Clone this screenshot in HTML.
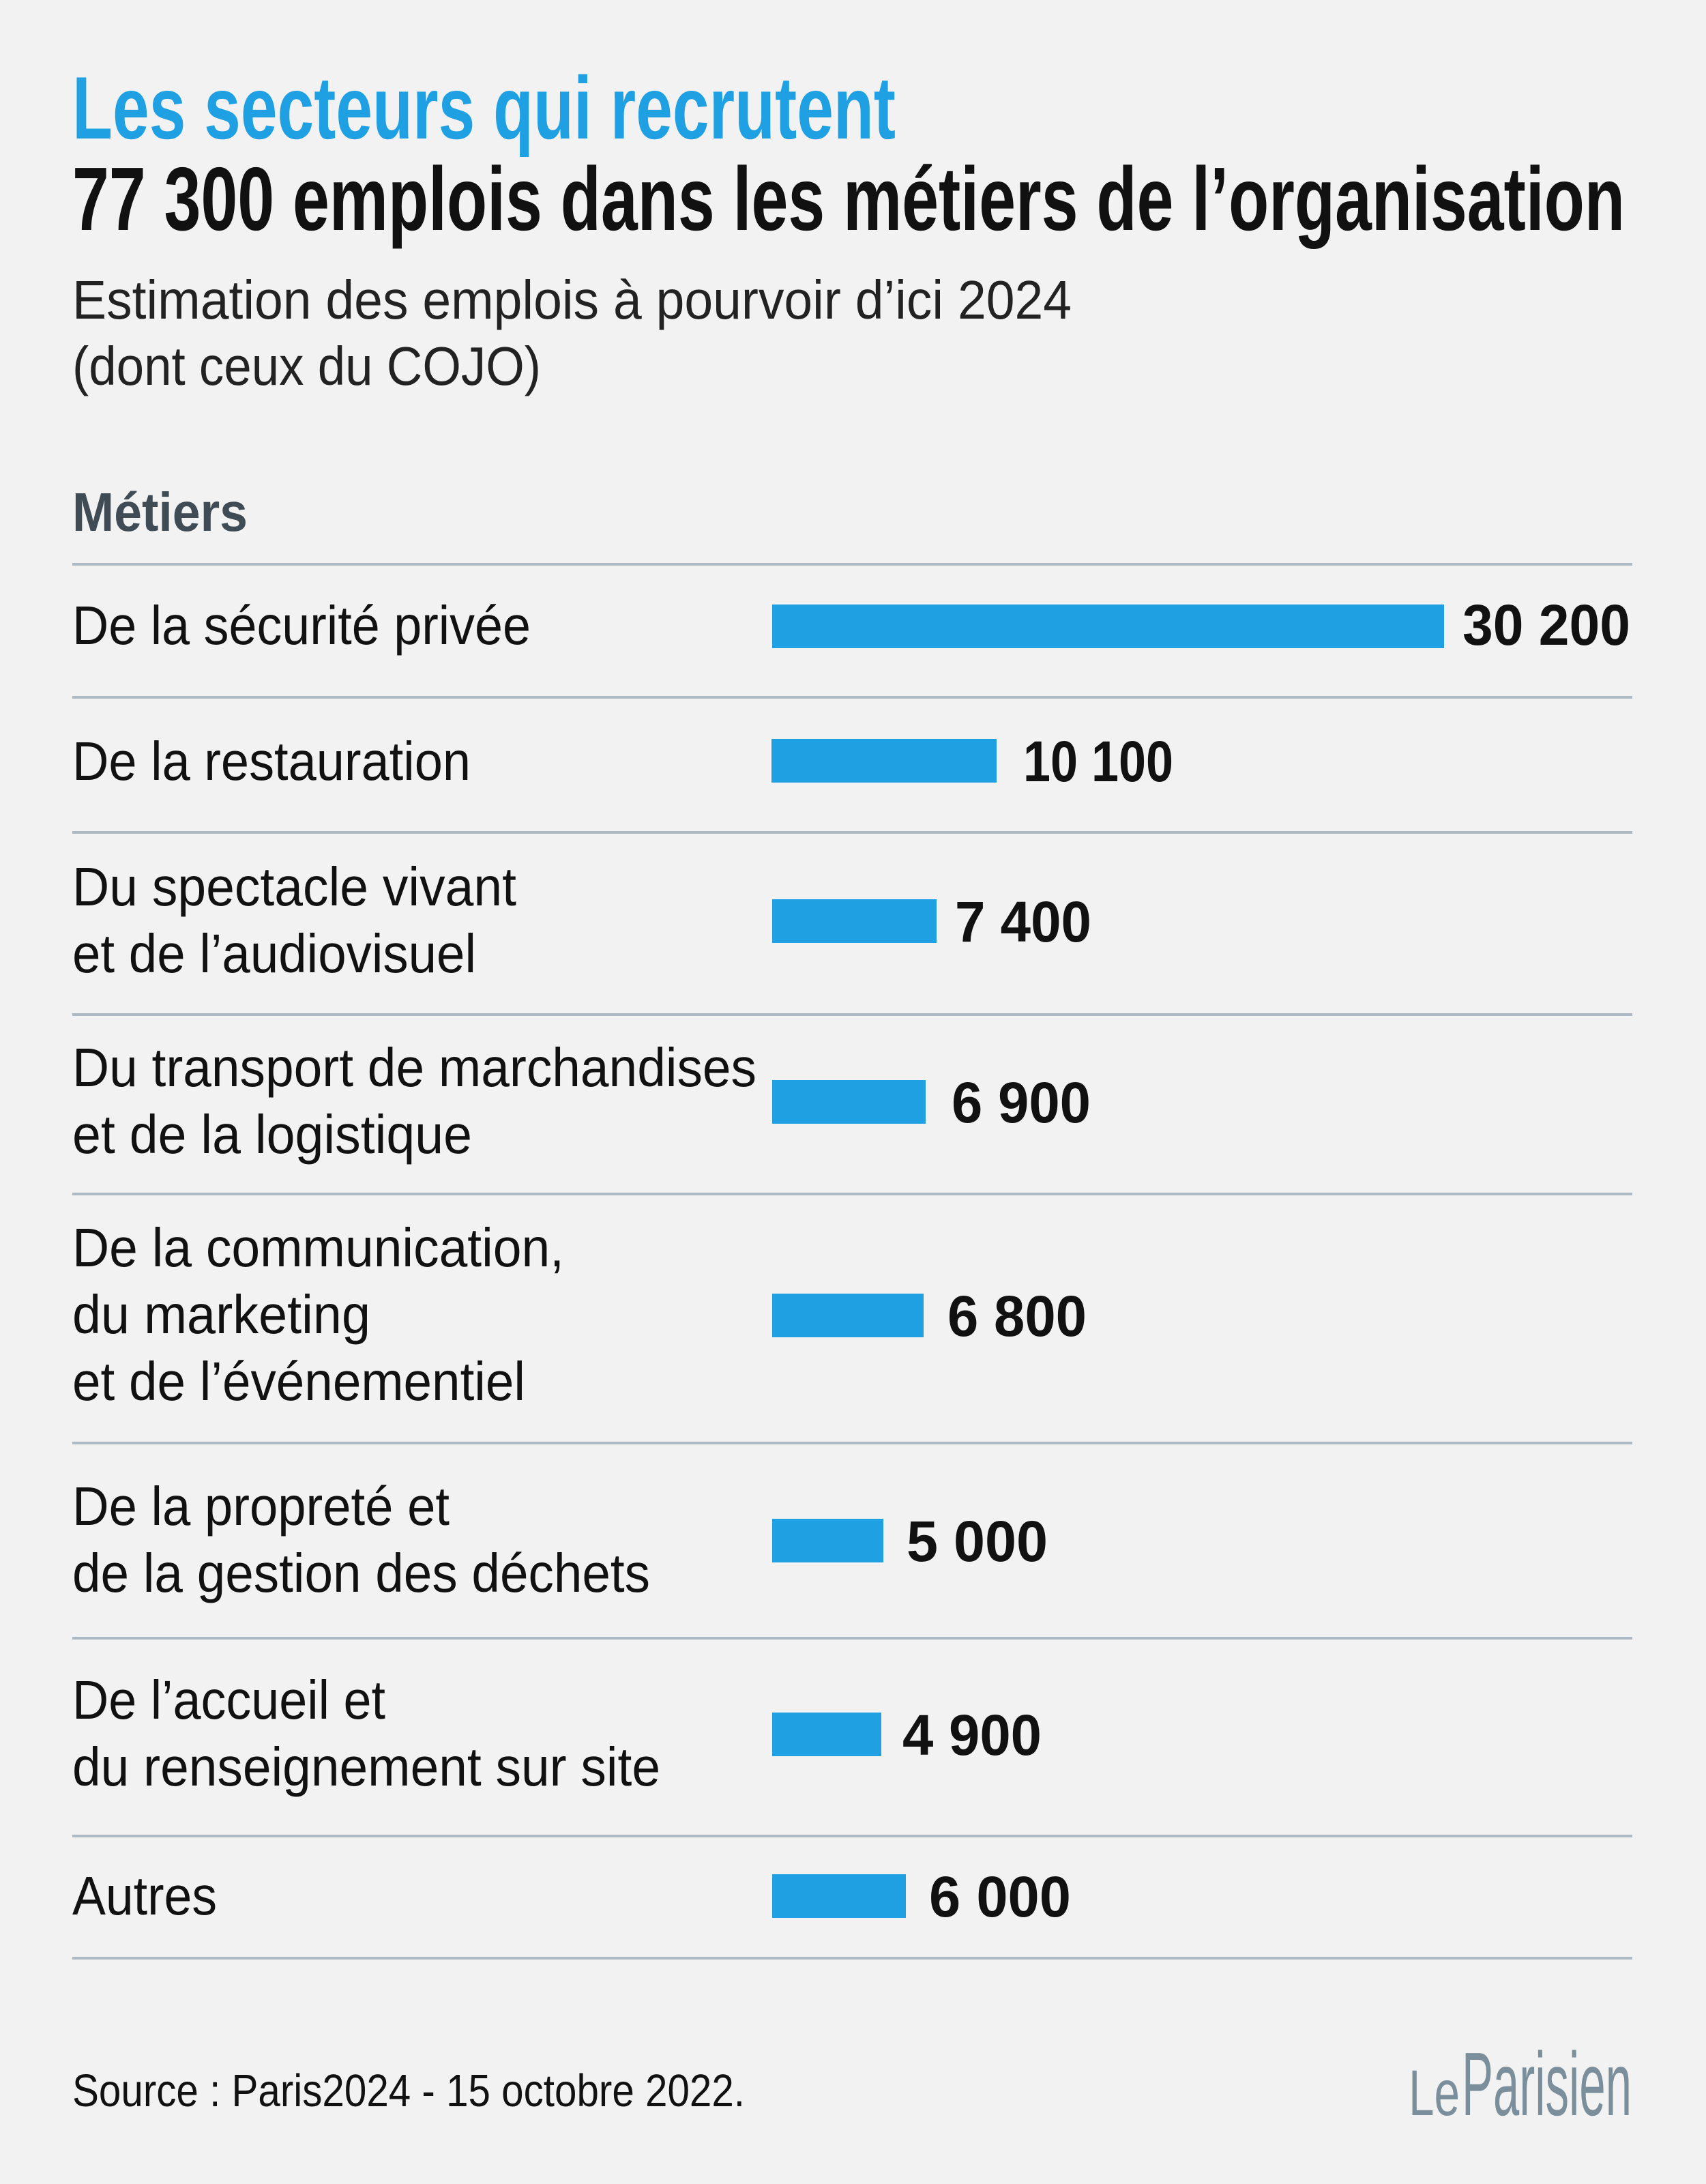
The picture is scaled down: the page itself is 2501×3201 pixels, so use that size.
<!DOCTYPE html>
<html><head><meta charset="utf-8"><style>
html,body{margin:0;padding:0;background:#f2f2f2}
svg{display:block}
text{font-family:"Liberation Sans",sans-serif}
.l{font-size:80px;fill:#111}
.v{font-size:84px;font-weight:bold;fill:#111}
</style></head><body>
<svg width="2501" height="3201" viewBox="0 0 2501 3201" xmlns="http://www.w3.org/2000/svg">
<rect width="2501" height="3201" fill="#f2f2f2"/>
<text x="106" y="203" font-size="130" font-weight="bold" fill="#1fa0e3" textLength="1207" lengthAdjust="spacingAndGlyphs">Les secteurs qui recrutent</text>
<text x="106" y="337" font-size="132" font-weight="bold" fill="#111" textLength="2276" lengthAdjust="spacingAndGlyphs">77 300 emplois dans les métiers de l’organisation</text>
<text x="106" y="467" font-size="80" fill="#222" textLength="1465" lengthAdjust="spacingAndGlyphs">Estimation des emplois à pourvoir d’ici 2024</text>
<text x="106" y="564" font-size="80" fill="#222" textLength="687" lengthAdjust="spacingAndGlyphs">(dont ceux du COJO)</text>
<text x="106" y="778" font-size="80" font-weight="bold" fill="#3f4b55" textLength="257" lengthAdjust="spacingAndGlyphs">Métiers</text>
<g fill="#adb9c4">
<rect x="106" y="825" width="2287" height="4"/>
<rect x="106" y="1020" width="2287" height="4"/>
<rect x="106" y="1218" width="2287" height="4"/>
<rect x="106" y="1485" width="2287" height="4"/>
<rect x="106" y="1748" width="2287" height="4"/>
<rect x="106" y="2113" width="2287" height="4"/>
<rect x="106" y="2399" width="2287" height="4"/>
<rect x="106" y="2689" width="2287" height="4"/>
<rect x="106" y="2868" width="2287" height="4"/>
</g>
<g fill="#1fa0e3">
<rect x="1132" y="886" width="985" height="64"/>
<rect x="1131" y="1083" width="330" height="64"/>
<rect x="1132" y="1318" width="241" height="64"/>
<rect x="1132" y="1583" width="225" height="64"/>
<rect x="1132" y="1896" width="222" height="64"/>
<rect x="1132" y="2226" width="163" height="64"/>
<rect x="1132" y="2510" width="160" height="64"/>
<rect x="1132" y="2747" width="196" height="64"/>
</g>
<text class="v" x="2144" y="945" textLength="246" lengthAdjust="spacingAndGlyphs">30 200</text>
<text class="v" x="1500" y="1145" textLength="220" lengthAdjust="spacingAndGlyphs">10 100</text>
<text class="v" x="1400" y="1380" textLength="200" lengthAdjust="spacingAndGlyphs">7 400</text>
<text class="v" x="1395" y="1645" textLength="204" lengthAdjust="spacingAndGlyphs">6 900</text>
<text class="v" x="1389" y="1958" textLength="204" lengthAdjust="spacingAndGlyphs">6 800</text>
<text class="v" x="1329" y="2288" textLength="207" lengthAdjust="spacingAndGlyphs">5 000</text>
<text class="v" x="1323" y="2572" textLength="204" lengthAdjust="spacingAndGlyphs">4 900</text>
<text class="v" x="1362" y="2809" textLength="208" lengthAdjust="spacingAndGlyphs">6 000</text>
<text class="l" x="106" y="944" textLength="672" lengthAdjust="spacingAndGlyphs">De la sécurité privée</text>
<text class="l" x="106" y="1143" textLength="584" lengthAdjust="spacingAndGlyphs">De la restauration</text>
<text class="l" x="106" y="1327" textLength="651" lengthAdjust="spacingAndGlyphs">Du spectacle vivant</text>
<text class="l" x="106" y="1425" textLength="592" lengthAdjust="spacingAndGlyphs">et de l’audiovisuel</text>
<text class="l" x="106" y="1592" textLength="1003" lengthAdjust="spacingAndGlyphs">Du transport de marchandises</text>
<text class="l" x="106" y="1690" textLength="586" lengthAdjust="spacingAndGlyphs">et de la logistique</text>
<text class="l" x="106" y="1856" textLength="721" lengthAdjust="spacingAndGlyphs">De la communication,</text>
<text class="l" x="106" y="1954" textLength="437" lengthAdjust="spacingAndGlyphs">du marketing</text>
<text class="l" x="106" y="2052" textLength="664" lengthAdjust="spacingAndGlyphs">et de l’événementiel</text>
<text class="l" x="106" y="2235" textLength="553" lengthAdjust="spacingAndGlyphs">De la propreté et</text>
<text class="l" x="106" y="2333" textLength="847" lengthAdjust="spacingAndGlyphs">de la gestion des déchets</text>
<text class="l" x="106" y="2519" textLength="459" lengthAdjust="spacingAndGlyphs">De l’accueil et</text>
<text class="l" x="106" y="2617" textLength="862" lengthAdjust="spacingAndGlyphs">du renseignement sur site</text>
<text class="l" x="106" y="2806" textLength="212" lengthAdjust="spacingAndGlyphs">Autres</text>
<text x="106" y="3087" font-size="67" fill="#111" textLength="986" lengthAdjust="spacingAndGlyphs">Source : Paris2024 - 15 octobre 2022.</text>
<text x="2065" y="3100" font-size="95" fill="#7a8f9b" textLength="75" lengthAdjust="spacingAndGlyphs">Le</text>
<text x="2143" y="3100" font-size="132" fill="#7a8f9b" textLength="249" lengthAdjust="spacingAndGlyphs">Parisien</text>
</svg>
</body></html>
